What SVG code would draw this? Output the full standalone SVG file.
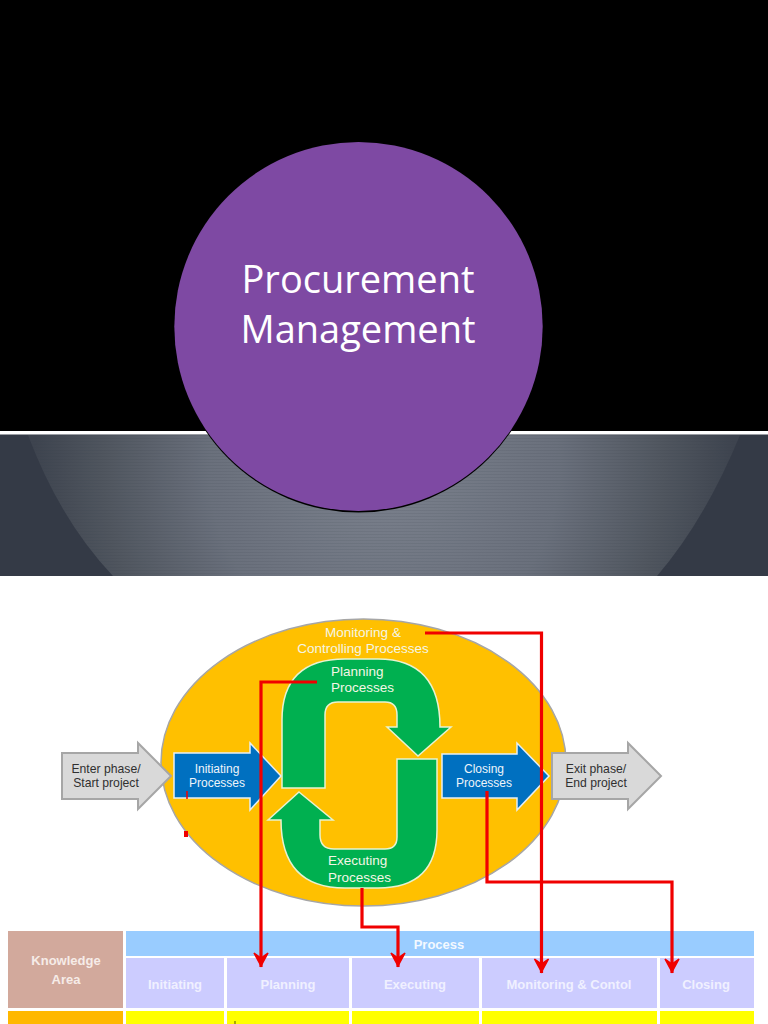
<svg xmlns="http://www.w3.org/2000/svg" width="768" height="1024" viewBox="0 0 768 1024">
<style>
.s{font-family:"Liberation Sans",Arial,sans-serif}
.t{font-family:"Open Sans","Noto Sans",sans-serif;font-size:38px;fill:#fff;text-anchor:middle}
.l{font-size:13.5px;fill:#f4f6e6}
.m{font-size:12px;fill:#eef4fa;text-anchor:middle}
.g{font-size:12.2px;fill:#303030;text-anchor:middle}
.b{font-size:13px;font-weight:bold;text-anchor:middle;fill:#f0f0ff}
.grey{fill:#d9d9d9;stroke:#a6a6a6;stroke-width:2}
.blue{fill:#0070c0;stroke:#e6eef4;stroke-width:1.5}
.green{fill:#00b050;stroke:#e8f2d0;stroke-width:1.5}
.red{fill:none;stroke:#f00000;stroke-width:3.2}
</style>
<defs>
<radialGradient id="fan" gradientUnits="userSpaceOnUse" cx="384" cy="470" r="350">
<stop offset="0" stop-color="#7b818d"/>
<stop offset="0.5" stop-color="#6a707c"/>
<stop offset="0.8" stop-color="#50565f"/>
<stop offset="1" stop-color="#3e444f"/>
</radialGradient>
<pattern id="dots" width="3" height="3" patternUnits="userSpaceOnUse">
<rect width="3" height="1" fill="#343a46" opacity="0.1"/>
</pattern>
<marker id="arr" markerUnits="userSpaceOnUse" markerWidth="20" markerHeight="20" refX="16" refY="10" orient="auto">
<path d="M2 3 L15 10 L2 17 L7 10 Z" fill="#f00000" stroke="#f00000" stroke-width="1.5"/>
</marker>
</defs>
<rect id="page" width="768" height="1024" fill="#fff"/>
<rect id="top-band" width="768" height="431" fill="#000"/>
<rect id="rule" y="431" width="768" height="3.5" fill="#fff"/>
<rect id="bottom-band" y="434.5" width="768" height="141.5" fill="#343a46"/>
<path id="fan-shape" d="M28 435H740Q705 520 657 576H113Q60 520 28 435Z" fill="url(#fan)"/>
<path d="M28 435H740Q705 520 657 576H113Q60 520 28 435Z" fill="url(#dots)"/>
<g id="title-circle">
<ellipse cx="358.500" cy="327.500" rx="184.500" ry="185" fill="#000"/>
<ellipse cx="358.500" cy="326.500" rx="184.200" ry="184.500" fill="#7e49a3"/>
<text class="t" x="358" y="293">Procurement</text>
<text class="t" x="358" y="343">Management</text>
</g>
<g id="monitoring">
<ellipse cx="363.500" cy="762.500" rx="202.500" ry="143.500" fill="#ffc000" stroke="#a6a6a6" stroke-width="1.500"/>
<text class="s l" x="363" y="637" text-anchor="middle">Monitoring &amp;</text>
<text class="s l" x="363" y="653" text-anchor="middle">Controlling Processes</text>
</g>
<g id="enter">
<path class="grey" d="M62 753H138V743L171 776L138 809V799H62Z"/>
<text class="s g" x="106" y="773">Enter phase/</text>
<text class="s g" x="106" y="787">Start project</text>
</g>
<g id="initiating">
<path class="blue" d="M174 753H250V743L281 776L250 810V798H174Z"/>
<text class="s m" x="217" y="773">Initiating</text>
<text class="s m" x="217" y="787">Processes</text>
</g>
<g id="planning">
<path class="green" d="M282 788V720Q282 659 345 659H378Q440 659 440 727H451L418 756L387 727H397V715Q397 702 385 702H338Q325 702 325 715V788Z"/>
<text class="s l" x="331" y="676">Planning</text>
<text class="s l" x="331" y="692">Processes</text>
</g>
<g id="executing">
<path class="green" d="M299 792L333 820H320V835Q320 849 334 849H385Q397 849 397 837V759H437V830Q437 888 378 888H345Q281 888 281 820H268Z"/>
<text class="s l" x="328" y="865">Executing</text>
<text class="s l" x="328" y="882">Processes</text>
</g>
<g id="closing">
<path class="blue" d="M442 754H517V743L549 776L517 810V798H442Z"/>
<text class="s m" x="484" y="773">Closing</text>
<text class="s m" x="484" y="787">Processes</text>
</g>
<g id="exit">
<path class="grey" d="M552 753H628V743L661 776L628 809V799H552Z"/>
<text class="s g" x="596" y="773">Exit phase/</text>
<text class="s g" x="596" y="787">End project</text>
</g>
<g id="table">
<rect x="8" y="931" width="115" height="77" fill="#d2a99c"/>
<rect x="126" y="931" width="628" height="25" fill="#99ccff"/>
<rect x="126" y="958" width="98" height="50" fill="#ccccff"/>
<rect x="227" y="958" width="122" height="50" fill="#ccccff"/>
<rect x="352" y="958" width="127" height="50" fill="#ccccff"/>
<rect x="482" y="958" width="175" height="50" fill="#ccccff"/>
<rect x="660" y="958" width="94" height="50" fill="#ccccff"/>
<rect x="8" y="1011" width="115" height="13" fill="#ffb800"/>
<rect x="126" y="1011" width="98" height="13" fill="#ffff00"/>
<rect x="227" y="1011" width="122" height="13" fill="#ffff00"/>
<rect x="352" y="1011" width="127" height="13" fill="#ffff00"/>
<rect x="482" y="1011" width="175" height="13" fill="#ffff00"/>
<rect x="660" y="1011" width="94" height="13" fill="#ffff00"/>
<rect x="234.500" y="1021" width="1" height="3" fill="#555500"/>
<text class="s b" x="66" y="965" style="fill:#f6ece8">Knowledge</text>
<text class="s b" x="66" y="984" style="fill:#f6ece8">Area</text>
<text class="s b" x="439" y="949" style="fill:#f4f9ff">Process</text>
<text class="s b" x="175" y="989">Initiating</text>
<text class="s b" x="288" y="989">Planning</text>
<text class="s b" x="415" y="989">Executing</text>
<text class="s b" x="569" y="989">Monitoring &amp; Contol</text>
<text class="s b" x="706" y="989">Closing</text>
</g>
<g id="connectors">
<path class="red" d="M317 682H261V967" marker-end="url(#arr)"/>
<path class="red" d="M362 888V927H398V967" marker-end="url(#arr)"/>
<path class="red" d="M425 633H541.500V973" marker-end="url(#arr)"/>
<path class="red" d="M487 791V882H672V973" marker-end="url(#arr)"/>
<path d="M187 791V799" fill="none" stroke="#f00000" stroke-width="1.500"/>
<rect x="184" y="831" width="4" height="6" fill="#f00000"/>
</g>
</svg>
